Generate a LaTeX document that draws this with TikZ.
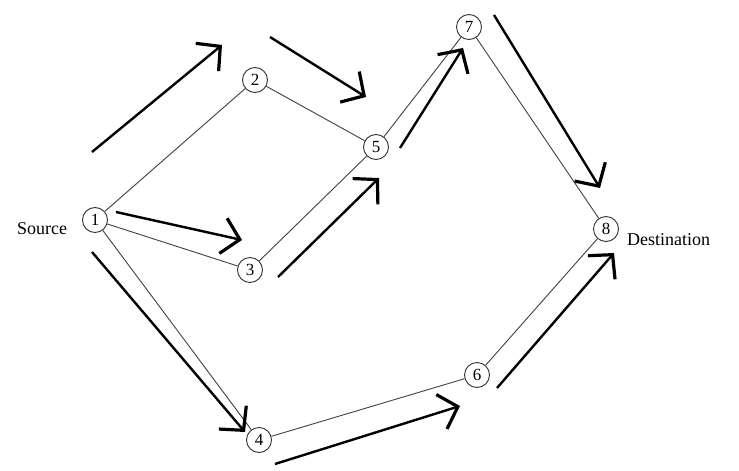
\documentclass[tikz,border=0pt]{standalone}
\usepackage{fontspec}
\setmainfont{Liberation Serif}
\usetikzlibrary{arrows.meta}
\begin{document}
\begin{tikzpicture}[x=1pt,y=-1pt,
  vertex/.style={draw=black!80,circle,minimum size=25pt,inner sep=0pt,font=\fontsize{17}{17}\selectfont,line width=0.9pt},
  link/.style={draw=black!75,line width=0.9pt},
  flow/.style={line width=2.4pt,-{Straight Barb[length=17pt,width=36pt,line width=3.2pt]}},
  lbl/.style={font=\fontsize{18}{18}\selectfont,inner sep=0pt}]
\useasboundingbox (0,0) rectangle (739,471);
\node[vertex] (n1) at (95,220) {1};
\node[vertex] (n2) at (255,80) {2};
\node[vertex] (n3) at (250,270) {3};
\node[vertex] (n4) at (259,440) {4};
\node[vertex] (n5) at (376,147) {5};
\node[vertex] (n6) at (477,375) {6};
\node[vertex] (n7) at (469,27) {7};
\node[vertex] (n8) at (606,229) {8};
\node[lbl] (src) at (42,229) {Source};
\node[lbl,anchor=west] (dst) at (627,240) {Destination};
\draw[link] (n1) -- (n2);
\draw[link] (n1) -- (n3);
\draw[link] (n1) -- (n4);
\draw[link] (n2) -- (n5);
\draw[link] (n3) -- (n5);
\draw[link] (n5) -- (n7);
\draw[link] (n7) -- (n8);
\draw[link] (n4) -- (n6);
\draw[link] (n6) -- (n8);
\coordinate (a1s) at (92,152); \coordinate (a1e) at (222,45);
\coordinate (a2s) at (270,37); \coordinate (a2e) at (366,97);
\coordinate (a3s) at (400,148); \coordinate (a3e) at (463,48);
\coordinate (a4s) at (116,212); \coordinate (a4e) at (242,240);
\coordinate (a5s) at (278,277); \coordinate (a5e) at (379,178);
\coordinate (a6s) at (92,252); \coordinate (a6e) at (245,432);
\coordinate (a7s) at (275,464); \coordinate (a7e) at (460,406);
\coordinate (a8s) at (497,388); \coordinate (a8e) at (614,253);
\coordinate (a9s) at (494,15); \coordinate (a9e) at (600,188);
\foreach \i in {1,...,9} \draw[flow] (a\i s) -- (a\i e);
\end{tikzpicture}
\end{document}
